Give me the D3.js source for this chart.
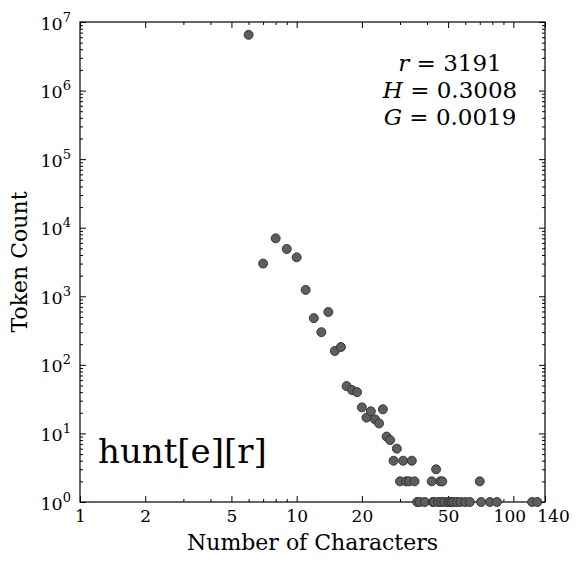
<!DOCTYPE html>
<html>
<head>
<meta charset="utf-8">
<script src="https://cdn.jsdelivr.net/npm/d3@7"></script>
<style>
  html, body { margin: 0; padding: 0; background: #ffffff; }
  svg { display: block; }
  text { font-family: "DejaVu Serif", serif; fill: #000; }
</style>
</head>
<body>
<script>
// ---- data ----
const lengths = [6, 7, 8, 9, 10, 11, 12, 13, 14, 15, 16, 17, 18, 19, 20, 21, 22, 23, 24, 25, 26, 27, 28, 29, 31, 34,
  30, 32, 33, 35, 42, 46, 47, 70, 44,
  36, 37, 39, 42.5, 43, 45, 46.5, 48, 50, 51, 52, 53, 55, 57, 60, 63, 71, 78, 84, 122, 129];
const counts = [6500000, 3000, 7000, 4900, 3700, 1240, 480, 300, 590, 159, 182, 49, 43, 40, 24, 17, 21, 16, 14, 22.5, 9, 8, 4, 6, 4, 4,
  2, 2, 2, 2, 2, 2, 2, 2, 3,
  1, 1, 1, 1, 1, 1, 1, 1, 1, 1, 1, 1, 1, 1, 1, 1, 1, 1, 1, 1, 1];
const xMajorTicks = [1, 2, 5, 10, 20, 50, 100, 140];
const xTickLabels = ["1", "2", "5", "10", "20", "50", "100", "140"];
const xMinorTicks = [3, 4, 6, 7, 8, 9, 30, 40, 60, 70, 80, 90];
const yMajorTicks = [1, 10, 100, 1000, 10000, 100000, 1000000, 10000000];
const yExponents = ["0", "1", "2", "3", "4", "5", "6", "7"];
const statNames = ["r", "H", "G"];
const statValues = ["3191", "0.3008", "0.0019"];
const wordLabel = "hunt[e][r]";
const xTitle = "Number of Characters";
const yTitle = "Token Count";

// ---- layout ----
const W = 583, H = 564;
const L = 80, R = 545, T = 22, B = 502;
// small horizontal nudges for the two crowded right-most tick labels
const xLabelNudge = { 100: -4, 140: 8 };

const svg = d3.select("body").append("svg").attr("width", W).attr("height", H);

const x = d3.scaleLog().domain([1, 140]).range([L, R]);
const y = d3.scaleLog().domain([1, 1e7]).range([B, T]);

const yMinorTicks = [];
for (let d = 1; d < 1e7; d *= 10) for (let k = 2; k <= 9; k++) yMinorTicks.push(d * k);

const MAJ = 6, MIN = 3;

function styleAxis(g) {
  g.select(".domain").remove();
  g.selectAll(".tick line").attr("stroke", "#000").attr("stroke-width", 1);
}

// bottom
svg.append("g").attr("transform", `translate(0,${B})`)
  .call(d3.axisBottom(x).tickValues(xMajorTicks).tickSize(-MAJ)
    .tickFormat((d, i) => xTickLabels[i]))
  .call(styleAxis)
  .call(g => g.selectAll(".tick text").attr("y", 8).attr("dy", "0.71em")
    .attr("x", d => xLabelNudge[d] || 0)
    .attr("font-size", 17).attr("font-family", "DejaVu Serif").attr("fill", "#000"));
svg.append("g").attr("transform", `translate(0,${B})`)
  .call(d3.axisBottom(x).tickValues(xMinorTicks).tickSize(-MIN).tickFormat(""))
  .call(styleAxis);
// top
svg.append("g").attr("transform", `translate(0,${T})`)
  .call(d3.axisTop(x).tickValues(xMajorTicks).tickSize(-MAJ).tickFormat(""))
  .call(styleAxis);
svg.append("g").attr("transform", `translate(0,${T})`)
  .call(d3.axisTop(x).tickValues(xMinorTicks).tickSize(-MIN).tickFormat(""))
  .call(styleAxis);
// left
const yAx = svg.append("g").attr("transform", `translate(${L},0)`)
  .call(d3.axisLeft(y).tickValues(yMajorTicks).tickSize(-MAJ).tickFormat(""))
  .call(styleAxis);
yAx.selectAll(".tick text").each(function (d, i) {
  const t = d3.select(this).attr("x", -9).attr("dy", null).attr("y", 7)
    .attr("font-family", "DejaVu Serif").attr("fill", "#000").attr("text-anchor", "end");
  t.append("tspan").attr("font-size", 17.5).text("10");
  t.append("tspan").attr("font-size", 13).attr("dy", -8).text(yExponents[i]);
});
svg.append("g").attr("transform", `translate(${L},0)`)
  .call(d3.axisLeft(y).tickValues(yMinorTicks).tickSize(-MIN).tickFormat(""))
  .call(styleAxis);
// right
svg.append("g").attr("transform", `translate(${R},0)`)
  .call(d3.axisRight(y).tickValues(yMajorTicks).tickSize(-MAJ).tickFormat(""))
  .call(styleAxis);
svg.append("g").attr("transform", `translate(${R},0)`)
  .call(d3.axisRight(y).tickValues(yMinorTicks).tickSize(-MIN).tickFormat(""))
  .call(styleAxis);

// frame
svg.append("rect").attr("x", L).attr("y", T).attr("width", R - L).attr("height", B - T)
  .attr("fill", "none").attr("stroke", "#000").attr("stroke-width", 1.2);

// points
const pts = lengths.map((v, i) => ({ x: v, y: counts[i] }));
svg.append("g").selectAll("circle").data(pts).join("circle")
  .attr("cx", d => x(d.x)).attr("cy", d => y(d.y)).attr("r", 4.5)
  .attr("fill", "#5e5e5e").attr("stroke", "#2e2e2e").attr("stroke-width", 0.9);

// stats annotation
const stats = svg.append("text").attr("font-size", 23).attr("text-anchor", "middle");
statNames.forEach((n, i) => {
  const line = stats.append("tspan").attr("x", 450).attr("y", 71 + i * 27);
  line.append("tspan").attr("font-style", "italic").text(n);
  line.append("tspan").text(" = " + statValues[i]);
});

// word label
svg.append("text").attr("x", 98).attr("y", 463).attr("font-size", 34).text(wordLabel);

// axis titles
svg.append("text").attr("x", (L + R) / 2).attr("y", 550).attr("font-size", 22)
  .attr("text-anchor", "middle").text(xTitle);
svg.append("text").attr("transform", `translate(27,${(T + B) / 2}) rotate(-90)`)
  .attr("font-size", 22).attr("text-anchor", "middle").text(yTitle);
</script>
</body>
</html>
